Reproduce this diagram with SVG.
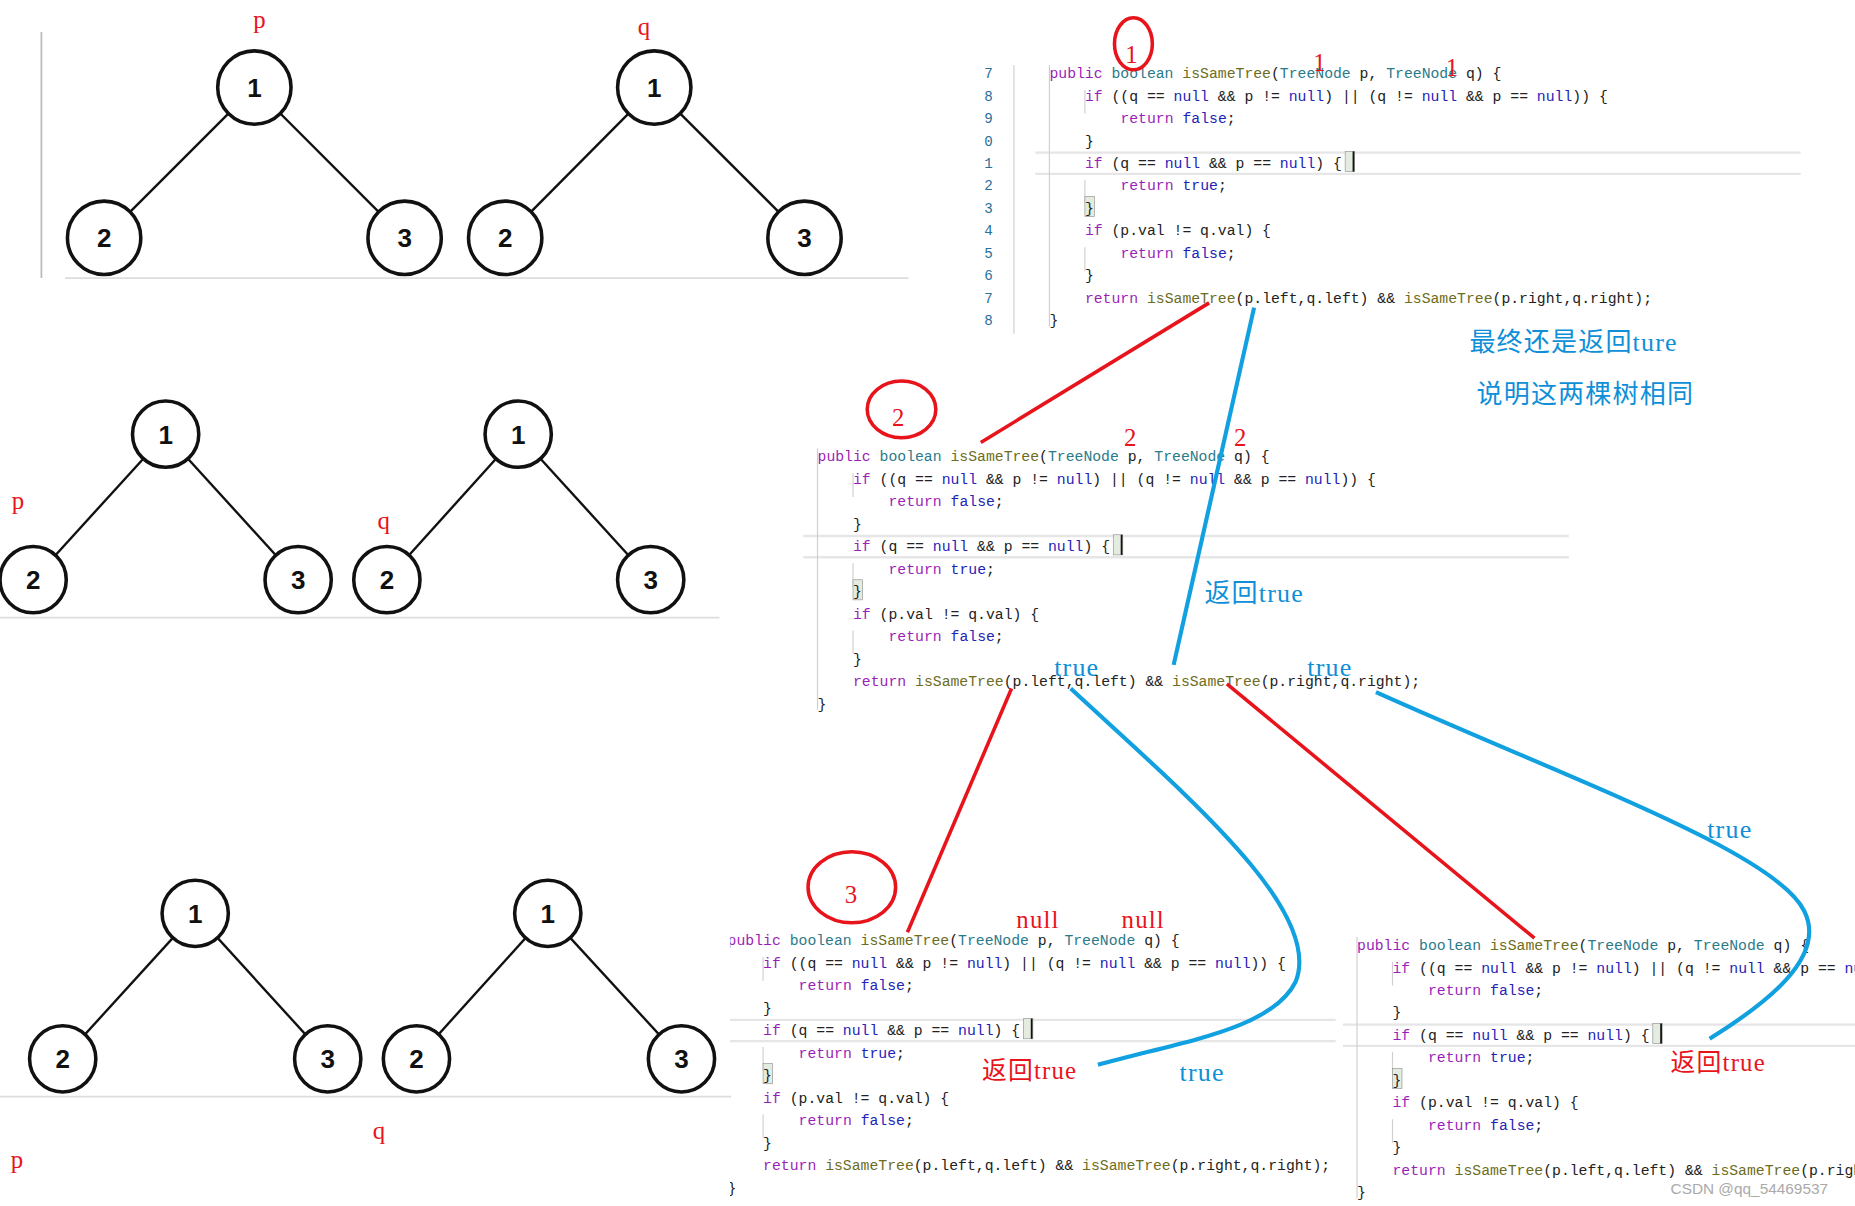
<svg xmlns="http://www.w3.org/2000/svg" width="1855" height="1206" viewBox="0 0 1855 1206">
<style>
.n circle{fill:#fff;stroke:#111;stroke-width:3}
.n text{font-family:"Liberation Sans",Arial,sans-serif;font-weight:bold;font-size:22px;text-anchor:middle;fill:#111}
.e{stroke:#111;stroke-width:2}
.code{font-family:"Liberation Mono","DejaVu Sans Mono",monospace;font-size:12.5px;fill:#222}
.k{fill:#9a1fb8}.c{fill:#2323b8}.t{fill:#2b7a8a}.f{fill:#6d6d22}
.ln{font-family:"Liberation Mono",monospace;font-size:12px;fill:#2b6e9a}
.rl{font-family:"Liberation Serif","Noto Sans CJK SC",serif;font-size:21px;fill:#e8141c;letter-spacing:1px}
.bl{font-family:"Liberation Serif","Noto Sans CJK SC",serif;font-size:22px;fill:#0f8fd8;letter-spacing:1px}
.red{stroke:#e8141c;stroke-width:3;fill:none}
.blu{stroke:#11a0e0;stroke-width:3.5;fill:none}
.hl{stroke:#e6e6e6;stroke-width:2}
.guide{stroke:#d0d0d0;stroke-width:1}
</style>
<defs>
<clipPath id="cl3"><rect x="617" y="760" width="512" height="260"/></clipPath>
<clipPath id="cl4"><rect x="1135" y="760" width="440" height="260"/></clipPath>
<g id="codeblk">
<line class="hl" x1="-12" y1="67" x2="635" y2="67"/>
<line class="hl" x1="-12" y1="85" x2="635" y2="85"/>
<line class="guide" x1="0" y1="-7" x2="0" y2="214"/>
<line class="guide" x1="30" y1="14" x2="30" y2="34"/>
<line class="guide" x1="30" y1="90" x2="30" y2="110"/>
<line class="guide" x1="30" y1="147" x2="30" y2="167"/>
<rect x="250" y="66" width="8" height="17" fill="#e4ece0" stroke="#999" stroke-width="0.6"/>
<line x1="257" y1="66" x2="257" y2="83" stroke="#111" stroke-width="1.5"/>
<rect x="30" y="104" width="8" height="17" fill="#e4ece0" stroke="#999" stroke-width="0.6"/>
<text class="code" xml:space="preserve"><tspan x="0" y="4"><tspan class="k">public</tspan> <tspan class="t">boolean</tspan> <tspan class="f">isSameTree</tspan>(<tspan class="t">TreeNode</tspan> p, <tspan class="t">TreeNode</tspan> q) {</tspan><tspan x="30" y="23"><tspan class="k">if</tspan> ((q == <tspan class="c">null</tspan> &amp;&amp; p != <tspan class="c">null</tspan>) || (q != <tspan class="c">null</tspan> &amp;&amp; p == <tspan class="c">null</tspan>)) {</tspan><tspan x="60" y="42"><tspan class="k">return</tspan> <tspan class="c">false</tspan>;</tspan><tspan x="30" y="61">}</tspan><tspan x="30" y="80"><tspan class="k">if</tspan> (q == <tspan class="c">null</tspan> &amp;&amp; p == <tspan class="c">null</tspan>) {</tspan><tspan x="60" y="99"><tspan class="k">return</tspan> <tspan class="c">true</tspan>;</tspan><tspan x="30" y="118">}</tspan><tspan x="30" y="137"><tspan class="k">if</tspan> (p.val != q.val) {</tspan><tspan x="60" y="156"><tspan class="k">return</tspan> <tspan class="c">false</tspan>;</tspan><tspan x="30" y="175">}</tspan><tspan x="30" y="194"><tspan class="k">return</tspan> <tspan class="f">isSameTree</tspan>(p.left,q.left) &amp;&amp; <tspan class="f">isSameTree</tspan>(p.right,q.right);</tspan><tspan x="0" y="213">}</tspan></text>
</g>
</defs>
<rect width="1855" height="1206" fill="#fff"/>
<g transform="scale(1.1831)">
<g id="frame-lines" stroke="#ddd" stroke-width="1.5">
<line x1="35" y1="27" x2="35" y2="235" stroke="#bbb"/>
<line x1="55" y1="235" x2="768" y2="235"/>
<line x1="0" y1="522" x2="608" y2="522"/>
<line x1="0" y1="927" x2="618" y2="927"/>
</g>
<g id="tree-edges">
<line class="e" x1="215" y1="74" x2="88" y2="201"/><line class="e" x1="215" y1="74" x2="342" y2="201"/>
<line class="e" x1="553" y1="74" x2="427" y2="201"/><line class="e" x1="553" y1="74" x2="680" y2="201"/>
<line class="e" x1="140" y1="367" x2="28" y2="490"/><line class="e" x1="140" y1="367" x2="252" y2="490"/>
<line class="e" x1="438" y1="367" x2="327" y2="490"/><line class="e" x1="438" y1="367" x2="550" y2="490"/>
<line class="e" x1="165" y1="772" x2="53" y2="895"/><line class="e" x1="165" y1="772" x2="277" y2="895"/>
<line class="e" x1="463" y1="772" x2="352" y2="895"/><line class="e" x1="463" y1="772" x2="576" y2="895"/>
</g>
<g id="t1a" class="n"><circle cx="215" cy="74" r="31"/><text x="215" y="82">1</text></g>
<g id="t1b" class="n"><circle cx="88" cy="201" r="31"/><text x="88" y="209">2</text></g>
<g id="t1c" class="n"><circle cx="342" cy="201" r="31"/><text x="342" y="209">3</text></g>
<g id="t2a" class="n"><circle cx="553" cy="74" r="31"/><text x="553" y="82">1</text></g>
<g id="t2b" class="n"><circle cx="427" cy="201" r="31"/><text x="427" y="209">2</text></g>
<g id="t2c" class="n"><circle cx="680" cy="201" r="31"/><text x="680" y="209">3</text></g>
<g id="t3a" class="n"><circle cx="140" cy="367" r="28"/><text x="140" y="375">1</text></g>
<g id="t3b" class="n"><circle cx="28" cy="490" r="28"/><text x="28" y="498">2</text></g>
<g id="t3c" class="n"><circle cx="252" cy="490" r="28"/><text x="252" y="498">3</text></g>
<g id="t4a" class="n"><circle cx="438" cy="367" r="28"/><text x="438" y="375">1</text></g>
<g id="t4b" class="n"><circle cx="327" cy="490" r="28"/><text x="327" y="498">2</text></g>
<g id="t4c" class="n"><circle cx="550" cy="490" r="28"/><text x="550" y="498">3</text></g>
<g id="t5a" class="n"><circle cx="165" cy="772" r="28"/><text x="165" y="780">1</text></g>
<g id="t5b" class="n"><circle cx="53" cy="895" r="28"/><text x="53" y="903">2</text></g>
<g id="t5c" class="n"><circle cx="277" cy="895" r="28"/><text x="277" y="903">3</text></g>
<g id="t6a" class="n"><circle cx="463" cy="772" r="28"/><text x="463" y="780">1</text></g>
<g id="t6b" class="n"><circle cx="352" cy="895" r="28"/><text x="352" y="903">2</text></g>
<g id="t6c" class="n"><circle cx="576" cy="895" r="28"/><text x="576" y="903">3</text></g>
<g id="pq-labels" class="rl" font-size="19">
<text x="214" y="24">p</text><text x="539" y="30">q</text>
<text x="10" y="430">p</text><text x="319" y="447">q</text>
<text x="9" y="987">p</text><text x="315" y="963">q</text>
</g>
<g id="code1">
<text class="ln" xml:space="preserve"><tspan x="832" y="66">7</tspan><tspan x="832" y="85">8</tspan><tspan x="832" y="104">9</tspan><tspan x="832" y="123">0</tspan><tspan x="832" y="142">1</tspan><tspan x="832" y="161">2</tspan><tspan x="832" y="180">3</tspan><tspan x="832" y="199">4</tspan><tspan x="832" y="218">5</tspan><tspan x="832" y="237">6</tspan><tspan x="832" y="256">7</tspan><tspan x="832" y="275">8</tspan></text>
<line class="guide" x1="857" y1="55" x2="857" y2="282"/>
<use href="#codeblk" transform="translate(887,62)"/>
</g>
<g id="code2"><use href="#codeblk" transform="translate(691,386)"/></g>
<g id="code3" clip-path="url(#cl3)"><use href="#codeblk" transform="translate(615,795)"/></g>
<g id="code4" clip-path="url(#cl4)"><use href="#codeblk" transform="translate(1147,799)"/></g>
<g id="red-marks">
<ellipse class="red" cx="958" cy="37" rx="16" ry="22"/>
<ellipse class="red" cx="762" cy="346" rx="29" ry="24"/>
<ellipse class="red" cx="720" cy="750" rx="37" ry="30"/>
<text class="rl" x="951" y="53">1</text>
<text class="rl" x="1110" y="60">1</text><text class="rl" x="1222" y="64">1</text>
<text class="rl" x="754" y="360">2</text>
<text class="rl" x="950" y="377">2</text><text class="rl" x="1043" y="377">2</text>
<text class="rl" x="714" y="763">3</text>
<text class="rl" x="859" y="784">null</text><text class="rl" x="948" y="784">null</text>
<text class="rl" x="830" y="912">返回true</text>
<text class="rl" x="1412" y="905">返回true</text>
</g>
<g id="connectors">
<line class="red" x1="1022" y1="256" x2="829" y2="374"/>
<line class="red" x1="855" y1="582" x2="767" y2="788"/>
<line class="red" x1="1037" y1="578" x2="1297" y2="793"/>
<line class="blu" x1="1060" y1="260" x2="992" y2="562"/>
<path class="blu" d="M905,582 C1000,670 1120,770 1095,830 C1075,870 1000,880 928,900"/>
<path class="blu" d="M1163,585 C1330,660 1500,720 1525,770 C1545,810 1490,850 1445,878"/>
</g>
<g id="blue-labels">
<text class="bl" x="1242" y="297">最终还是返回ture</text>
<text class="bl" x="1248" y="341">说明这两棵树相同</text>
<text class="bl" x="1018" y="509">返回true</text>
<text class="bl" x="891" y="571">true</text>
<text class="bl" x="1105" y="571">true</text>
<text class="bl" x="1443" y="708">true</text>
<text class="bl" x="997" y="914">true</text>
</g>
<text x="1412" y="1009" font-family="'Liberation Sans',Arial,sans-serif" font-size="13" fill="#aaa">CSDN @qq_54469537</text>
</g>
</svg>
